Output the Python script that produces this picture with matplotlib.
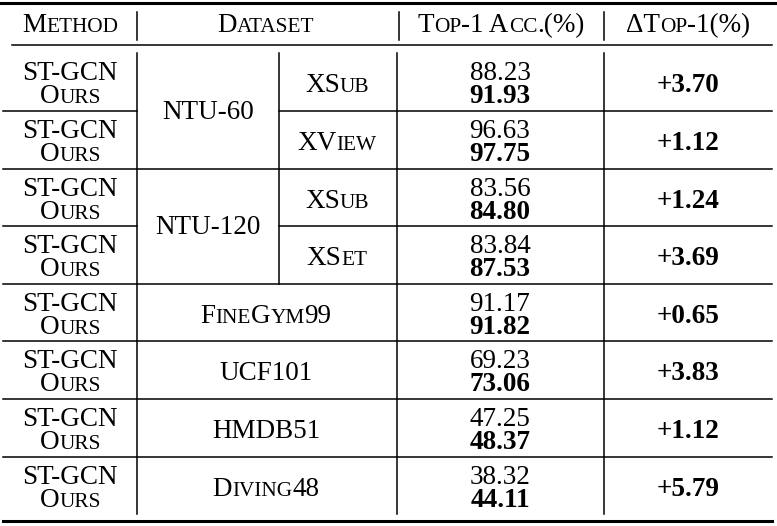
import matplotlib
matplotlib.use("Agg")
import matplotlib.pyplot as plt
from matplotlib.font_manager import FontProperties
from matplotlib.textpath import TextToPath

# Table data
datasets = ["NTU-60", "NTU-60", "NTU-120", "NTU-120", "FineGym99", "UCF101", "HMDB51", "Diving48"]
splits = ["XSub", "XView", "XSub", "XSet", None, None, None, None]
stgcn_acc = ["88.23", "96.63", "83.56", "83.84", "91.17", "69.23", "47.25", "38.32"]
ours_acc = ["91.93", "97.75", "84.80", "87.53", "91.82", "73.06", "48.37", "44.11"]
delta = ["+3.70", "+1.12", "+1.24", "+3.69", "+0.65", "+3.83", "+1.12", "+5.79"]
headers = ["Method", "Dataset", "Top-1 Acc.(%)", "\u0394Top-1(%)"]

FONT = "Liberation Serif"
SIZE = 19.5
SMALL = 15.3
DPI = 100
t2p = TextToPath()

fig = plt.figure(figsize=(7.77, 5.26), dpi=DPI)
ax = fig.add_axes([0, 0, 1, 1])
ax.set_xlim(0, 777)
ax.set_ylim(526, 0)
ax.axis("off")


def width_px(s, size, bold):
    fp = FontProperties(family=FONT, size=size, weight="bold" if bold else "normal")
    w, h, d = t2p.get_text_width_height_descent(s, fp, ismath=False)
    return w * DPI / 72.0


def sc(x, y, s, bold=False, smallcaps=True):
    # split into runs of (text, small?)
    parts = []
    for ch in s:
        small = smallcaps and ch.islower()
        c = ch.upper() if small else ch
        if parts and parts[-1][1] == small:
            parts[-1][0] += c
        else:
            parts.append([c, small])
    widths = [width_px(p, SMALL if sm else SIZE, bold) for p, sm in parts]
    cx = x - sum(widths) / 2
    for (p, sm), w in zip(parts, widths):
        ax.text(cx, y, p, family=FONT, fontsize=SMALL if sm else SIZE,
                weight="bold" if bold else "normal", ha="left", va="baseline")
        cx += w


# rules
ax.plot([0, 777], [3, 3], color="black", lw=2.2)
ax.plot([12, 772], [45, 45], color="black", lw=1.1)
ax.plot([3, 772], [521, 521], color="black", lw=2.2)

# header
hx = [70, 266, 501, 688]
for x, h in zip(hx, headers):
    sc(x, 32, h)
for x in [137, 399, 604]:
    ax.plot([x, x], [12, 40], color="black", lw=1.1)

step = 57.6
tops = [111 - step + i * step for i in range(len(datasets))]
for i, top in enumerate(tops):
    sc(70, top + 27, "ST-GCN", smallcaps=False)
    sc(70, top + 50, "Ours")
    ax.text(500, top + 27, stgcn_acc[i], family=FONT, fontsize=SIZE, ha="center", va="baseline")
    ax.text(500, top + 50, ours_acc[i], family=FONT, fontsize=SIZE, weight="bold", ha="center", va="baseline")
    ax.text(688, top + 39, delta[i], family=FONT, fontsize=SIZE, weight="bold", ha="center", va="baseline")
    if splits[i] is None:
        sc(266, top + 39, datasets[i])
    else:
        sc(337, top + 39, splits[i])
        if i % 2 == 0:
            sc(208, top + step + 8, datasets[i])
    if i > 0:
        if splits[i] is not None and i % 2 == 1:
            ax.plot([3, 137], [top, top], color="black", lw=1.1)
            ax.plot([279, 772], [top, top], color="black", lw=1.1)
        else:
            ax.plot([3, 772], [top, top], color="black", lw=1.1)

bottom = tops[-1] + step
for x in [137, 397, 604]:
    ax.plot([x, x], [53, bottom], color="black", lw=1.1)
ax.plot([279, 279], [53, tops[4]], color="black", lw=1.1)

fig.savefig("out.png", dpi=DPI)
